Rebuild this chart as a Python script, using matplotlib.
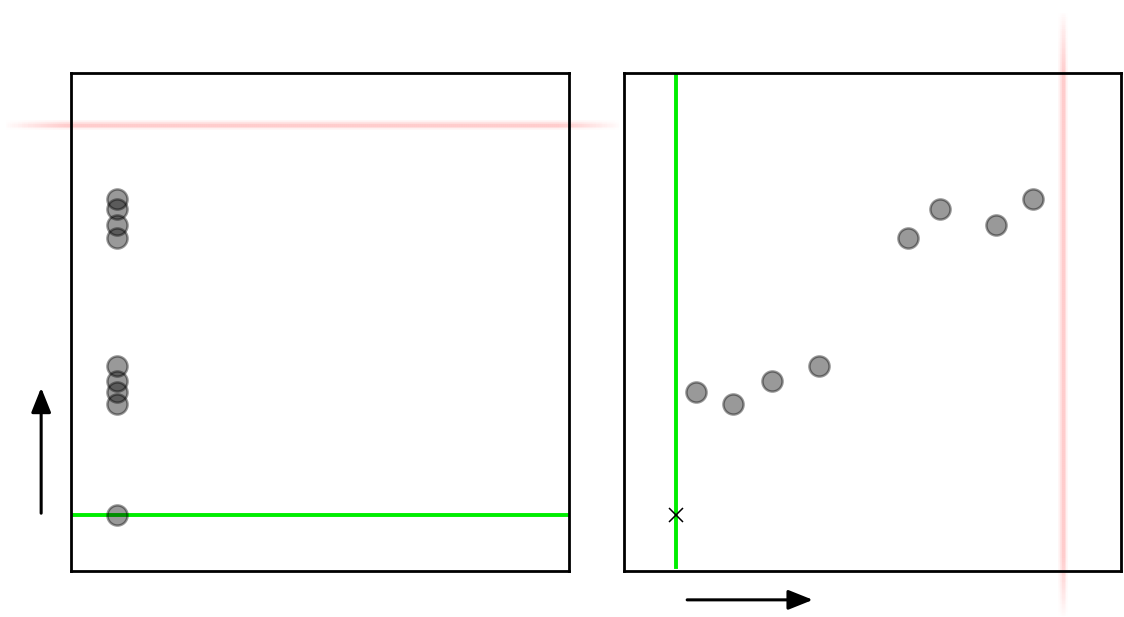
import numpy as np
import matplotlib
matplotlib.use("Agg")
import matplotlib.pyplot as plt
from matplotlib.collections import LineCollection

# sampled points (x, f(x)), axes run 0..1 in both panels
xs = [0.145, 0.219, 0.298, 0.392, 0.571, 0.636, 0.748, 0.822]
ys = [0.359, 0.335, 0.382, 0.412, 0.669, 0.727, 0.694, 0.747]
best_x = 0.105
best_y = 0.112
proj_x = 0.092          # where the left panel stacks the values
upper_y = 0.896         # red line, left panel
upper_x = 0.884         # red line, right panel

green = "#00ee00"
red = "#ff9a9a"


def blurred_line(ax, a, b, pos, vertical=False):
    # soft red line that fades out at both ends
    t = np.linspace(a, b, 300)
    env = np.clip(np.minimum(t - a, b - t) / 0.12, 0, 1)
    for lw, al in [(7, 0.10), (4.5, 0.18), (2.5, 0.3)]:
        if vertical:
            pts = np.column_stack([np.full_like(t, pos), t])
        else:
            pts = np.column_stack([t, np.full_like(t, pos)])
        segs = np.stack([pts[:-1], pts[1:]], axis=1)
        cols = np.zeros((len(segs), 4))
        cols[:, :3] = matplotlib.colors.to_rgb(red)
        cols[:, 3] = al * env[:-1]
        lc = LineCollection(segs, colors=cols, linewidths=lw, clip_on=False,
                            capstyle="butt", zorder=1)
        ax.add_collection(lc)


arrow_kw = dict(arrowstyle="-|>,head_length=0.75,head_width=0.3", color="k",
                lw=2.2, mutation_scale=20, shrinkA=0, shrinkB=0)

fig = plt.figure(figsize=(11.24, 6.17), dpi=100)
ax1 = fig.add_axes([0.0632, 0.0746, 0.4431, 0.8071])
ax2 = fig.add_axes([0.5552, 0.0746, 0.4422, 0.8071])

for ax in (ax1, ax2):
    ax.set_xlim(0, 1)
    ax.set_ylim(0, 1)
    ax.set_xticks([])
    ax.set_yticks([])
    for s in ax.spines.values():
        s.set_linewidth(2.0)
        s.set_zorder(5)

# left panel: values only
all_y = ys + [best_y]
ax1.scatter([proj_x] * len(all_y), all_y, s=210, c="k", alpha=0.4,
            edgecolors="k", linewidths=1.8, zorder=3)
ax1.axhline(best_y, color=green, lw=2.8, zorder=2)
blurred_line(ax1, -0.135, 1.10, upper_y)
ax1.annotate("", xy=(-0.060, 0.368), xytext=(-0.060, 0.116),
             xycoords="axes fraction", textcoords="axes fraction",
             arrowprops=arrow_kw, annotation_clip=False)

# right panel: x vs value
ax2.scatter(xs, ys, s=210, c="k", alpha=0.4, edgecolors="k",
            linewidths=1.8, zorder=3)
ax2.axvline(best_x, ymin=0.008, color=green, lw=2.8, zorder=2)
ax2.plot([best_x], [best_y], "x", color="k", ms=10, mew=1.1, zorder=4)
blurred_line(ax2, -0.095, 1.12, upper_x, vertical=True)
ax2.annotate("", xy=(0.380, -0.058), xytext=(0.127, -0.058),
             xycoords="axes fraction", textcoords="axes fraction",
             arrowprops=arrow_kw, annotation_clip=False)

fig.savefig("out.png", dpi=100)
